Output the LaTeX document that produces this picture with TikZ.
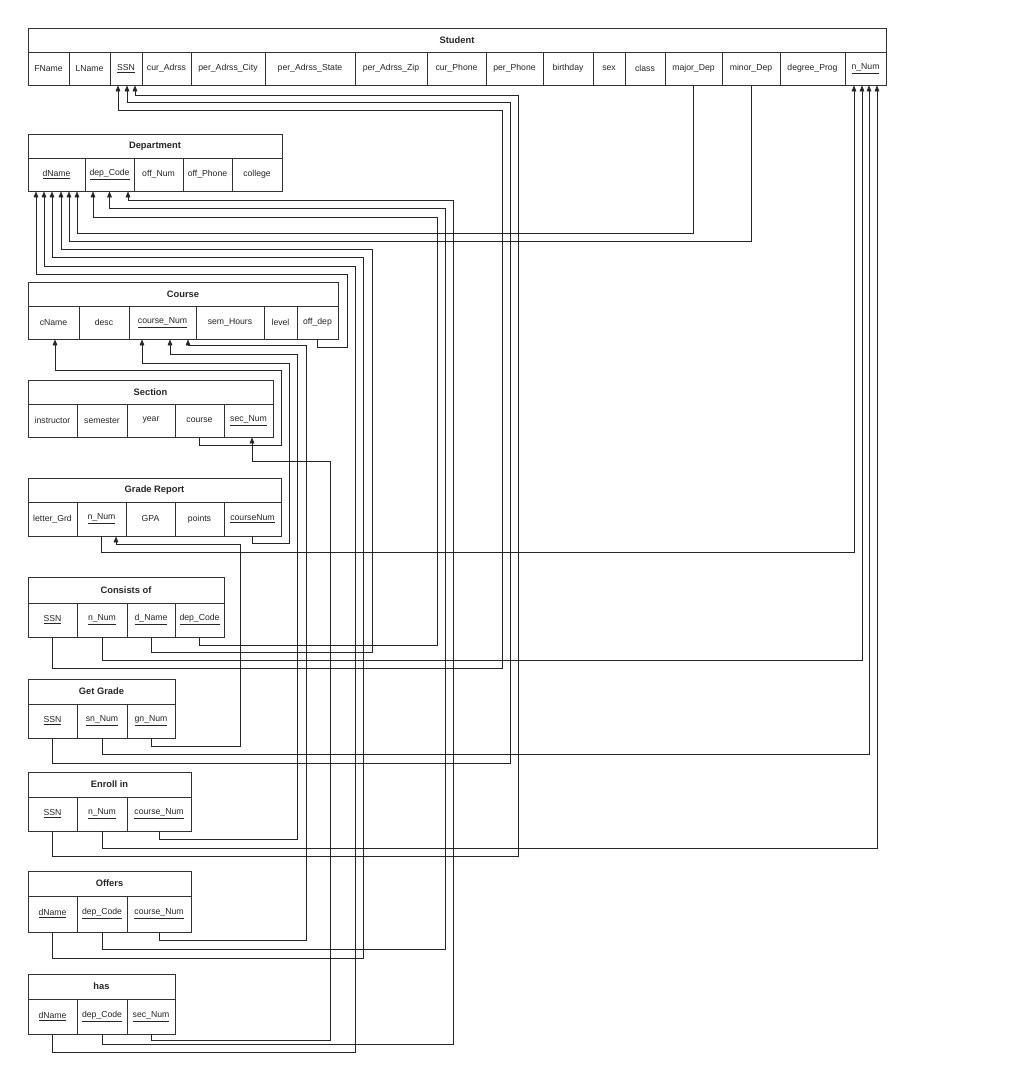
\documentclass[tikz,border=0pt]{standalone}
\usepackage{fontspec}
\setmainfont{Liberation Sans}
\usetikzlibrary{arrows.meta,calc}
\newcommand{\fld}[6]{\node[fldst, minimum width={(#3-#2)*0.75pt}, minimum height={(#5-#4)*0.75pt}] (#1) at ({(#2+#3)/2},{(#4+#5)/2}) {#6};}
\newcommand{\ttl}[6]{\node[fldst, font=\fontsize{7}{8}\selectfont\bfseries, minimum width={(#3-#2)*0.75pt}, minimum height={(#5-#4)*0.75pt}] (#1) at ({(#2+#3)/2},{(#4+#5)/2}) {#6};}
\newcommand{\ul}[1]{\underline{#1}}
\begin{document}
\begin{tikzpicture}[x=0.75pt,y=-0.75pt,
  fldst/.style={draw=black!80, line width=0.6pt, inner sep=0pt, font=\fontsize{6.5}{8}\selectfont, text=black!85},
  conn/.style={draw=black!85, line width=0.6pt},
  arr/.style={conn, -{Triangle[length=4.5pt,width=3.5pt]}}]
\useasboundingbox[fill=white] (0,0) rectangle (1015,1088);
% Student
\ttl{stu}{28}{886}{28}{52}{Student}
\fld{stu-f}{28}{69}{52}{85}{FName}
\fld{stu-l}{69}{110}{52}{85}{LName}
\fld{stu-ssn}{110}{142}{52}{85}{\ul{SSN}}
\fld{stu-ca}{142}{191}{52}{85}{cur\_Adrss}
\fld{stu-pc}{191}{265}{52}{85}{per\_Adrss\_City}
\fld{stu-ps}{265}{355}{52}{85}{per\_Adrss\_State}
\fld{stu-pz}{355}{427}{52}{85}{per\_Adrss\_Zip}
\fld{stu-cp}{427}{486}{52}{85}{cur\_Phone}
\fld{stu-pp}{486}{543}{52}{85}{per\_Phone}
\fld{stu-b}{543}{593}{52}{85}{birthday}
\fld{stu-s}{593}{625}{52}{85}{sex}
\fld{stu-c}{625}{665}{52}{85}{class}
\fld{stu-major}{665}{722}{52}{85}{major\_Dep}
\fld{stu-minor}{722}{780}{52}{85}{minor\_Dep}
\fld{stu-dp}{780}{845}{52}{85}{degree\_Prog}
\fld{stu-nnum}{845}{886}{52}{85}{\ul{n\_Num}}
% Department
\ttl{dep}{28}{282}{134}{158}{Department}
\fld{dep-dname}{28}{85}{158}{191}{\ul{dName}}
\fld{dep-code}{85}{134}{158}{191}{\ul{dep\_Code}}
\fld{dep-on}{134}{183}{158}{191}{off\_Num}
\fld{dep-op}{183}{232}{158}{191}{off\_Phone}
\fld{dep-col}{232}{282}{158}{191}{college}
% Course
\ttl{co}{28}{338}{282}{306}{Course}
\fld{co-cname}{28}{79}{306}{339}{cName}
\fld{co-desc}{79}{129}{306}{339}{desc}
\fld{co-cnum}{129}{196}{306}{339}{\ul{course\_Num}}
\fld{co-sh}{196}{264}{306}{339}{sem\_Hours}
\fld{co-lv}{264}{297}{306}{339}{level}
\fld{co-offdep}{297}{338}{306}{339}{off\_dep}
% Section
\ttl{se}{28}{273}{380}{404}{Section}
\fld{se-ins}{28}{77}{404}{437}{instructor}
\fld{se-sem}{77}{127}{404}{437}{semester}
\fld{se-yr}{127}{175}{404}{437}{year}
\fld{se-course}{175}{224}{404}{437}{course}
\fld{se-sec}{224}{273}{404}{437}{\ul{sec\_Num}}
% Grade Report
\ttl{gr}{28}{281}{478}{502}{Grade Report}
\fld{gr-lg}{28}{77}{502}{536}{letter\_Grd}
\fld{gr-nnum}{77}{126}{502}{536}{\ul{n\_Num}}
\fld{gr-gpa}{126}{175}{502}{536}{GPA}
\fld{gr-pts}{175}{224}{502}{536}{points}
\fld{gr-cnum}{224}{281}{502}{536}{\ul{courseNum}}
% Consists of
\ttl{cs}{28}{224}{577}{603}{Consists of}
\fld{cs-ssn}{28}{77}{603}{637}{\ul{SSN}}
\fld{cs-nnum}{77}{127}{603}{637}{\ul{n\_Num}}
\fld{cs-dname}{127}{175}{603}{637}{\ul{d\_Name}}
\fld{cs-dep}{175}{224}{603}{637}{\ul{dep\_Code}}
% Get Grade
\ttl{gg}{28}{175}{679}{704}{Get Grade}
\fld{gg-ssn}{28}{77}{704}{738}{\ul{SSN}}
\fld{gg-snnum}{77}{127}{704}{738}{\ul{sn\_Num}}
\fld{gg-gnnum}{127}{175}{704}{738}{\ul{gn\_Num}}
% Enroll in
\ttl{en}{28}{191}{772}{797}{Enroll in}
\fld{en-ssn}{28}{77}{797}{831}{\ul{SSN}}
\fld{en-nnum}{77}{127}{797}{831}{\ul{n\_Num}}
\fld{en-cnum}{127}{191}{797}{831}{\ul{course\_Num}}
% Offers
\ttl{of}{28}{191}{871}{896}{Offers}
\fld{of-dname}{28}{77}{896}{932}{\ul{dName}}
\fld{of-dep}{77}{127}{896}{932}{\ul{dep\_Code}}
\fld{of-cnum}{127}{191}{896}{932}{\ul{course\_Num}}
% has
\ttl{has}{28}{175}{974}{999}{has}
\fld{has-dname}{28}{77}{999}{1034}{\ul{dName}}
\fld{has-dep}{77}{127}{999}{1034}{\ul{dep\_Code}}
\fld{has-sec}{127}{175}{999}{1034}{\ul{sec\_Num}}
% connectors
\draw[arr] (cs-ssn.south) |- (502,668) -- (502,110) -| ($(stu-ssn.south)+(-8,0)$);
\draw[arr] (gg-ssn.south) |- (510,763) -- (510,102) -| ($(stu-ssn.south)+(1,0)$);
\draw[arr] (en-ssn.south) |- (518,856) -- (518,95) -| ($(stu-ssn.south)+(9,0)$);
\draw[arr] (gr-nnum.south) |- (854,552) -- ($(stu-nnum.south)+(-11.5,0)$);
\draw[arr] (cs-nnum.south) |- (862,660) -- ($(stu-nnum.south)+(-3.5,0)$);
\draw[arr] (gg-snnum.south) |- (869,754) -- ($(stu-nnum.south)+(3.5,0)$);
\draw[arr] (en-nnum.south) |- (877,848) -- ($(stu-nnum.south)+(11.5,0)$);
\draw[arr] (stu-major.south) |- (77,233) -- ($(dep-dname.south)+(20.5,0)$);
\draw[arr] (stu-minor.south) |- (69,241) -- ($(dep-dname.south)+(12.5,0)$);
\draw[arr] (co-offdep.south) |- (347,347) -- (347,274) -| ($(dep-dname.south)+(-20.5,0)$);
\draw[arr] (has-dname.south) |- (355,1052) -- (355,266) -| ($(dep-dname.south)+(-12.5,0)$);
\draw[arr] (of-dname.south) |- (363,958) -- (363,257) -| ($(dep-dname.south)+(-4.5,0)$);
\draw[arr] (cs-dname.south) |- (372,652) -- (372,249) -| ($(dep-dname.south)+(4.5,0)$);
\draw[arr] (cs-dep.south) |- (437,645) -- (437,217) -| ($(dep-code.south)+(-16.5,0)$);
\draw[arr] (of-dep.south) |- (445,949) -- (445,208) -| ($(dep-code.south)+(0,0)$);
\draw[arr] (has-dep.south) |- (453,1044) -- (453,200) -| ($(dep-code.south)+(18.5,0)$);
\draw[arr] (has-sec.south) |- (330,1040) -- (330,461) -| ($(se-sec.south)+(3.5,0)$);
\draw[arr] (se-course.south) |- (281,445) -- (281,370) -| ($(co-cname.south)+(1.5,0)$);
\draw[arr] (gr-cnum.south) |- (289,543) -- (289,363) -| ($(co-cnum.south)+(-20.5,0)$);
\draw[arr] (en-cnum.south) |- (297,839) -- (297,354) -| ($(co-cnum.south)+(7.5,0)$);
\draw[arr] (of-cnum.south) |- (306,940) -- (306,345) -| ($(co-cnum.south)+(25.5,0)$);
\draw[arr] (gg-gnnum.south) |- (240,746) -- (240,544) -| ($(gr-nnum.south)+(14.5,0)$);
\end{tikzpicture}
\end{document}
